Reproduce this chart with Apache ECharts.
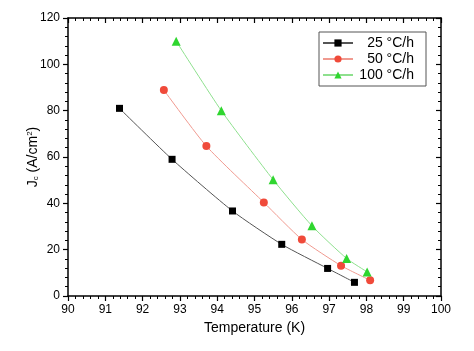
<!DOCTYPE html>
<html>
<head>
<meta charset="utf-8" />
<title>Jc vs Temperature</title>
<style>
html, body { margin: 0; padding: 0; background: #fff; }
#main { width: 474px; height: 351px; }
</style>
</head>
<body>
<div id="main"></div>
<script src="https://cdn.jsdelivr.net/npm/echarts@6/dist/echarts.min.js"></script>
<script>
// data
var rate25 = [[91.38, 81], [92.79, 59], [94.41, 36.7], [95.73, 22.3], [96.96, 11.9], [97.68, 5.9]];
var rate50 = [[92.57, 88.9], [93.71, 64.7], [95.25, 40.4], [96.27, 24.4], [97.32, 13.1], [98.1, 6.8]];
var rate100 = [[92.9, 110], [94.11, 80], [95.5, 50.2], [96.54, 30.3], [97.47, 16.2], [98.02, 10.4]];
var seriesNames = ['25 °C/h', '50 °C/h', '100 °C/h'];

var font = 'Liberation Sans, Arial, sans-serif';
var chart = echarts.init(document.getElementById('main'));

function axisBase(extra) {
	var a = {
		axisLine: { show: true, onZero: false, lineStyle: { color: '#000', width: 1.5 } },
		axisTick: { show: true, inside: false, length: 5, lineStyle: { color: '#000', width: 1.2 } },
		minorTick: { show: true, splitNumber: 5, length: 3, lineStyle: { color: '#000', width: 1 } },
		splitLine: { show: false },
		axisLabel: { color: '#000', fontSize: 12, fontFamily: font }
	};
	for (var k in extra) a[k] = extra[k];
	return a;
}

var option = {
	animation: false,
	grid: { left: 68, right: 33, top: 18, bottom: 55 },
	legend: {
		orient: 'vertical',
		left: 319, top: 32,
		padding: [4, 12, 4, 3],
		itemWidth: 30, itemHeight: 9, itemGap: 2,
		borderColor: '#555', borderWidth: 1,
		data: seriesNames,
		formatter: function (name) { return '{r|' + name + '}'; },
		textStyle: {
			color: '#000', fontFamily: font,
			rich: { r: { width: 56, align: 'right', fontSize: 14, fontFamily: font, color: '#000' } }
		}
	},
	xAxis: [
		axisBase({
			type: 'value', min: 90, max: 100, interval: 1, position: 'bottom',
			name: 'Temperature (K)', nameLocation: 'middle', nameGap: 23,
			nameTextStyle: { color: '#000', fontSize: 14, fontFamily: font }
		}),
		axisBase({
			type: 'value', min: 90, max: 100, interval: 1, position: 'top',
			axisTick: { show: true, inside: true, length: 5, lineStyle: { color: '#000', width: 1.2 } },
			minorTick: { show: true, splitNumber: 5, length: 3, lineStyle: { color: '#000', width: 1 } },
			axisLabel: { show: false }
		})
	],
	yAxis: [
		axisBase({
			type: 'value', min: 0, max: 120, interval: 20, position: 'left',
			name: 'J{sub|c} (A/cm{sup|2})', nameLocation: 'middle', nameGap: 28, nameRotate: 90,
			nameMoveOverlap: false,
			nameTextStyle: {
				color: '#000', fontSize: 14, fontFamily: font,
				rich: {
					sub: { fontSize: 8, verticalAlign: 'bottom', padding: [6, 0, 0, 0], fontFamily: font, color: '#000' },
					sup: { fontSize: 8, verticalAlign: 'top', padding: [0, 0, 6, 0], fontFamily: font, color: '#000' }
				}
			}
		}),
		axisBase({
			type: 'value', min: 0, max: 120, interval: 20, position: 'right',
			axisTick: { show: true, inside: true, length: 5, lineStyle: { color: '#000', width: 1.2 } },
			minorTick: { show: true, splitNumber: 5, length: 3, lineStyle: { color: '#000', width: 1 } },
			axisLabel: { show: false }
		})
	],
	series: [
		{
			name: seriesNames[0], type: 'line', data: rate25, smooth: 0.2,
			symbol: 'rect', symbolSize: 7,
			itemStyle: { color: '#000' },
			lineStyle: { color: '#555', width: 1 }
		},
		{
			name: seriesNames[1], type: 'line', data: rate50, smooth: 0.2,
			symbol: 'circle', symbolSize: 8,
			itemStyle: { color: '#f04a3a' },
			lineStyle: { color: '#f09a90', width: 1 }
		},
		{
			name: seriesNames[2], type: 'line', data: rate100, smooth: 0.2,
			symbol: 'triangle', symbolSize: 9,
			itemStyle: { color: '#2fd62f' },
			lineStyle: { color: '#8ee08e', width: 1 }
		}
	]
};
chart.setOption(option);
</script>
</body>
</html>
